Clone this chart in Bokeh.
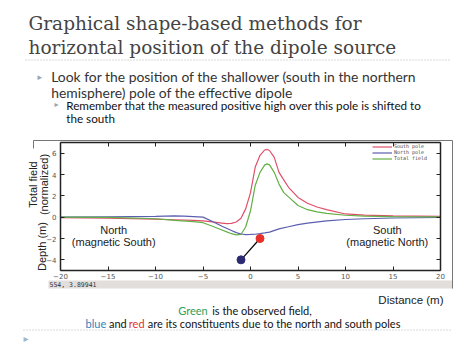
import numpy as np
from bokeh.plotting import figure
from bokeh.models import (Label, Arrow, BoxAnnotation, Range1d, LinearAxis,
                          Legend, LegendItem, FixedTicker)
from bokeh.embed import file_html
from bokeh.resources import INLINE

# ---------------- data ----------------
x_red = [-20, -15, -10, -8, -6, -5, -4, -3, -2.5, -2, -1.5, -1, -0.5, 0, 0.5, 1,
         1.5, 1.75, 2, 2.5, 3, 3.5, 4, 5, 6, 7, 8, 10, 12, 15, 17.5, 20]
south_pole = [-0.05, -0.1, -0.18, -0.24, -0.3, -0.35, -0.45, -0.55, -0.6, -0.58,
              -0.45, -0.1, 0.8, 2.3, 4.7, 5.8, 6.3, 6.35, 6.25, 5.6, 4.2, 3.5,
              2.8, 1.85, 1.3, 0.95, 0.7, 0.3, 0.2, 0.12, 0.1, 0.08]

x_blue = [-20, -15, -10, -8, -7, -6, -5, -4, -3, -2, -1.5, -1, -0.5, 0, 0.5, 1,
          1.5, 2, 3, 4, 5, 6, 8, 10, 12, 15, 20]
north_pole = [0.0, 0.03, 0.08, 0.12, 0.1, 0.05, 0.0, -0.4, -0.85, -1.25, -1.45,
              -1.58, -1.63, -1.62, -1.6, -1.55, -1.48, -1.4, -1.1, -0.9, -0.7,
              -0.55, -0.35, -0.22, -0.15, -0.08, -0.03]

x_green = [-20, -15, -10, -8, -6, -5, -4, -3, -2.5, -2, -1.5, -1, -0.5, 0, 0.5,
           1, 1.5, 1.75, 2, 2.5, 3, 3.5, 4, 5, 6, 7, 8, 10, 12, 15, 20]
total_field = [0.0, -0.02, -0.15, -0.3, -0.42, -0.52, -0.85, -1.2, -1.38, -1.55,
               -1.66, -1.62, -0.9, 0.6, 3.0, 4.2, 4.9, 5.0, 4.9, 4.2, 3.1, 2.3,
               1.9, 1.1, 0.7, 0.5, 0.35, 0.18, 0.1, 0.05, 0.03]

dipole_x = [1, -1]
dipole_y = [-2, -4]
dipole_colors = ["#e8302a", "#2b2b72"]

x_ticks = [-20, -15, -10, -5, 0, 5, 10, 15, 20]
y_ticks = [-4, -2, 0, 2, 4, 6]
x_lim = (-20, 20)
y_lim = (-5, 7)

# ---------------- layout ----------------
W, H = 474, 355
# pixel box of the chart's plotting area inside the slide
BL, BR, BT, BB = 60, 440, 142, 270

kx = (BR - BL) / (x_lim[1] - x_lim[0])
ky = (BB - BT) / (y_lim[1] - y_lim[0])
x_range = Range1d(x_lim[0] - BL / kx, x_lim[1] + (W - BR) / kx)
y_range = Range1d(y_lim[0] - (H - BB) / ky, y_lim[1] + BT / ky)

p = figure(width=W, height=H, output_backend="svg", toolbar_location=None,
           x_range=x_range, y_range=y_range, x_axis_type=None,
           y_axis_type=None, min_border=0, min_border_left=0,
           min_border_right=0, min_border_top=0, min_border_bottom=0)
p.grid.visible = False
p.background_fill_color = "white"
p.border_fill_color = "white"
p.outline_line_color = None

ax_b = LinearAxis(fixed_location=y_lim[0], bounds=x_lim,
                  ticker=FixedTicker(ticks=x_ticks))
ax_t = LinearAxis(fixed_location=y_lim[1], bounds=x_lim,
                  ticker=FixedTicker(ticks=x_ticks))
ax_l = LinearAxis(fixed_location=x_lim[0], bounds=y_lim,
                  ticker=FixedTicker(ticks=y_ticks))
ax_r = LinearAxis(fixed_location=x_lim[1], bounds=y_lim,
                  ticker=FixedTicker(ticks=y_ticks))
p.add_layout(ax_b, "below")
p.add_layout(ax_t, "above")
p.add_layout(ax_l, "left")
p.add_layout(ax_r, "right")
for ax in (ax_b, ax_t, ax_l, ax_r):
    ax.axis_line_color = "#222222"
    ax.axis_line_width = 1.5
    ax.major_tick_in = 4
    ax.major_tick_out = 0
    ax.major_tick_line_color = "#222222"
    ax.minor_tick_line_color = None
    ax.major_label_text_font = "DejaVu Sans"
    ax.major_label_text_font_size = "7px"
    ax.major_label_text_color = "#555555"
    ax.major_label_standoff = 2
ax_l.major_label_standoff = 4
ax_t.major_label_text_color = None
ax_r.major_label_text_color = None


def sx(X):
    return X


def sy(Y):
    return H - Y


def slabel(X, Y, text, size, color="#222222", font="Lato", align="left",
           angle=0.0, style="normal"):
    p.add_layout(Label(x=sx(X), y=sy(Y), x_units="screen", y_units="screen",
                       text=text, text_align=align, text_baseline="middle",
                       text_font=font, text_font_size=size, text_color=color,
                       angle=angle, text_font_style=style))


def sline(X0, Y0, X1, Y1, color, dash="solid", width=1):
    p.add_layout(Arrow(x_start=sx(X0), y_start=sy(Y0), x_end=sx(X1),
                       y_end=sy(Y1), start_units="screen", end_units="screen",
                       end=None, line_color=color, line_dash=dash,
                       line_width=width))


# window frame around the chart (behind everything)
p.add_layout(BoxAnnotation(left=sx(48), right=sx(452), top=sy(280),
                           bottom=sy(288), left_units="screen",
                           right_units="screen", top_units="screen",
                           bottom_units="screen", fill_color="#e2dedb",
                           fill_alpha=1, line_color=None, level="underlay"))
sline(33, 140, 452, 140, "#777777")
sline(33, 140, 33, 148, "#777777")
sline(452, 140, 452, 288, "#777777")
slabel(49, 284.5, "554,  3.89941", "6.5px", "#333333", "DejaVu Sans Mono")

r_red = p.line(x_red, south_pole, line_color="#e0506a", line_width=1.2)
r_blue = p.line(x_blue, north_pole, line_color="#5b5fae", line_width=1.2)
r_green = p.line(x_green, total_field, line_color="#62b046", line_width=1.2)

p.line(dipole_x, dipole_y, line_color="black", line_width=1.2)
p.scatter(dipole_x, dipole_y, size=8, fill_color=dipole_colors,
          line_color=dipole_colors)

legend = Legend(items=[LegendItem(label="South pole", renderers=[r_red]),
                       LegendItem(label="North pole", renderers=[r_blue]),
                       LegendItem(label="Total field", renderers=[r_green])],
                location=(372, H - 161), label_text_font="DejaVu Sans Mono",
                label_text_font_size="5px", label_text_color="#444444",
                glyph_height=3, glyph_width=20, label_height=3, spacing=0,
                padding=0, margin=0, label_standoff=2,
                background_fill_alpha=0, border_line_color=None)
p.add_layout(legend)

# text inside the plot
for txt, xx, yy in [("North", -14.4, -1.22), ("(magnetic South)", -14.4, -2.31),
                    ("South", 14.4, -1.22), ("(magnetic North)", 14.4, -2.31)]:
    p.add_layout(Label(x=xx, y=yy, text=txt, text_align="center",
                       text_baseline="middle", text_font="Liberation Sans",
                       text_font_size="11px", text_color="#222222"))

# axis titles
slabel(32, 184, "Total field", "11px", "#222222", "Liberation Sans", "center",
       np.pi / 2)
slabel(43, 184, "(normalized)", "11px", "#222222", "Liberation Sans", "center",
       np.pi / 2)
slabel(41, 246, "Depth (m)", "11px", "#222222", "Liberation Sans", "center",
       np.pi / 2)
slabel(443, 299, "Distance (m)", "11.5px", "#222222", "Liberation Sans", "right")

# slide title and bullets
slabel(28, 23, "Graphical shape-based methods for", "18.5px", "#444444",
       "DejaVu Serif")
slabel(28, 47, "horizontal position of the dipole source", "18.5px", "#444444",
       "DejaVu Serif")
sline(25, 59.5, 450, 59.5, "#b5b5b5", "1 2")

slabel(37, 76, "\u25b8", "9px", "#9aa4ae", "DejaVu Sans")
slabel(50.7, 76, "Look for the position of the shallower (south in the northern",
       "13.9px", "#333333")
slabel(50.7, 92, "hemisphere) pole of the effective dipole", "13.9px", "#333333")
slabel(54, 104, "\u25b8", "8px", "#9aa4ae", "DejaVu Sans")
slabel(65.7, 104,
       "Remember that the measured positive high over this pole is shifted to",
       "11.7px", "#111111")
slabel(65.7, 117, "the south", "11.7px", "#111111")

# bottom caption
slabel(177.7, 309.5, "Green", "11px", "#2aa05a")
slabel(211.7, 309.5, "is the observed field,", "11px", "#111111")
slabel(85, 323, "blue", "11px", "#2f7fc0")
slabel(108.5, 323, "and", "11px", "#111111")
slabel(128.3, 323, "red", "11px", "#e0302a")
slabel(147.3, 323, "are its constituents due to the north and south poles",
       "11px", "#111111")
sline(23, 329.5, 450, 329.5, "#b5b5b5", "1 2")
slabel(23, 338, "\u25b8", "10px", "#9fb8cf", "DejaVu Sans")

open("out.html", "w").write(file_html(p, INLINE))
